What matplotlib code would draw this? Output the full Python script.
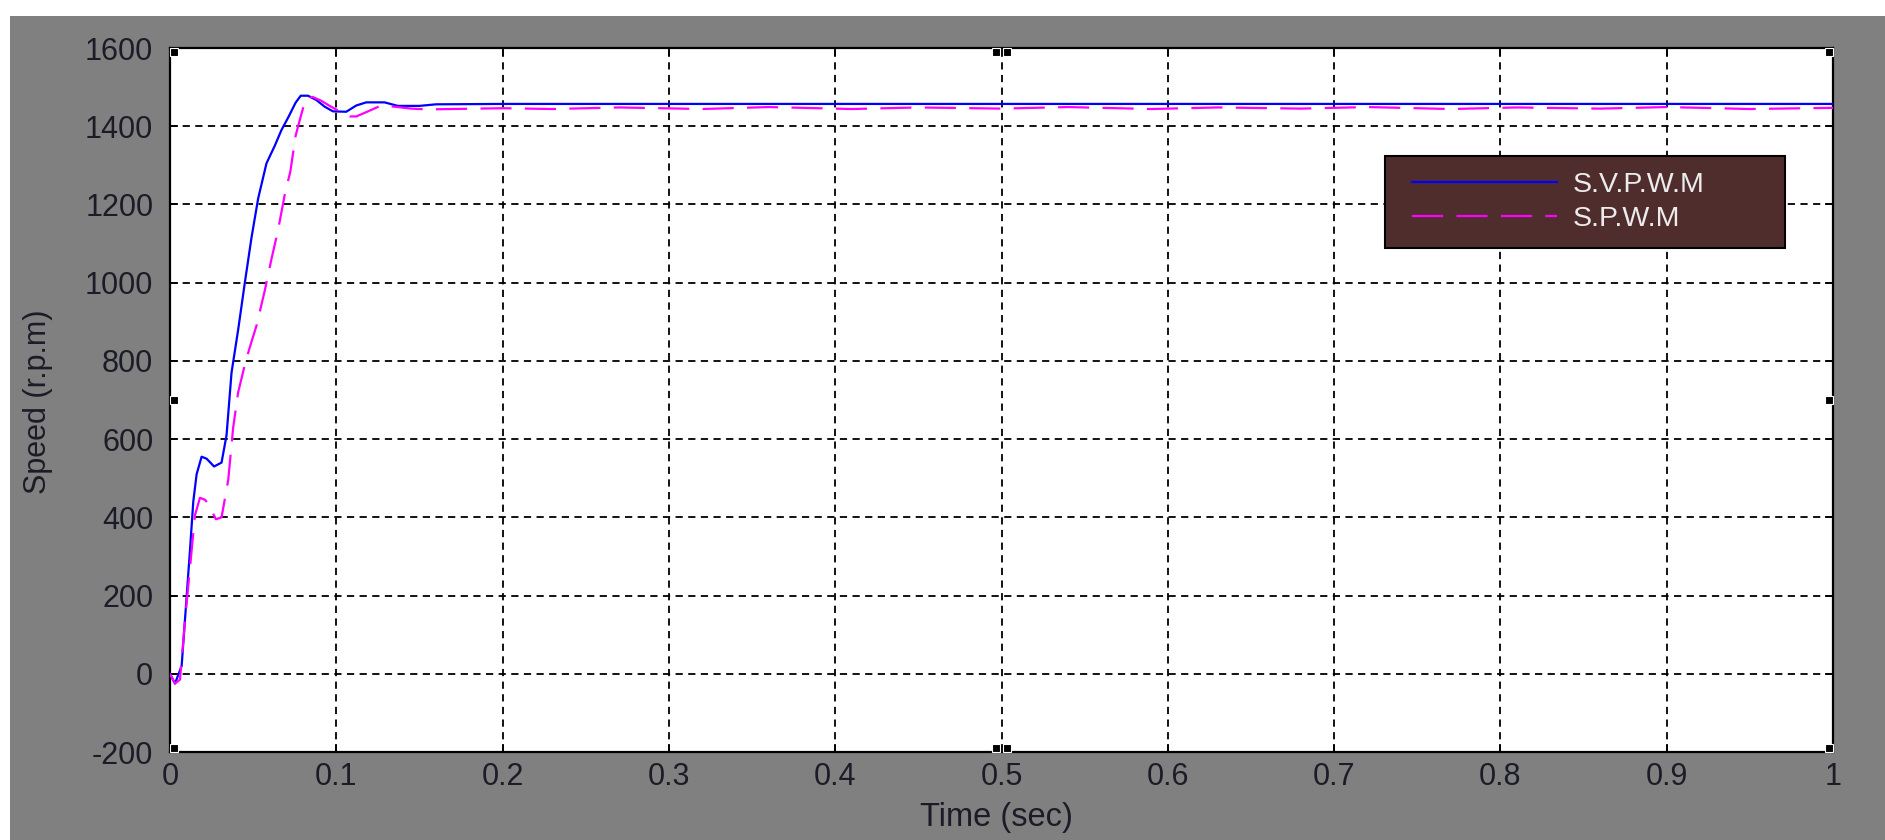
import matplotlib
matplotlib.use("Agg")
import matplotlib.pyplot as plt
from matplotlib.patches import Rectangle

# speed response (time in sec, speed in r.p.m)
svpwm_t = [0, 0.003, 0.007, 0.012, 0.014, 0.016, 0.019, 0.022, 0.0265, 0.031,
           0.034, 0.037, 0.041, 0.045, 0.049, 0.053, 0.058, 0.063, 0.067,
           0.0714, 0.0755, 0.0786, 0.083, 0.088, 0.093, 0.098, 0.106, 0.112,
           0.118, 0.129, 0.137, 0.15, 0.16, 0.2, 0.5, 1.0]
svpwm_speed = [0, -25, 20, 315, 440, 510, 555, 550, 530, 540,
               610, 770, 880, 1000, 1115, 1215, 1305, 1350, 1390,
               1425, 1460, 1478, 1478, 1467, 1450, 1438, 1437, 1453,
               1461, 1461, 1452, 1452, 1456, 1457, 1457, 1457]

spwm_t = [0, 0.003, 0.006, 0.009, 0.012, 0.015, 0.018, 0.021, 0.023, 0.0276,
          0.031, 0.035, 0.038, 0.041, 0.045, 0.048, 0.052, 0.057, 0.061,
          0.065, 0.069, 0.0724, 0.0755, 0.0786, 0.0816, 0.0857, 0.091, 0.096,
          0.102, 0.108, 0.112, 0.118, 0.127, 0.135, 0.145, 0.155, 0.2, 0.23,
          0.27, 0.32, 0.36, 0.41, 0.45, 0.5, 0.54, 0.59, 0.63, 0.68, 0.72,
          0.77, 0.81, 0.86, 0.9, 0.95, 1.0]
spwm_speed = [0, -25, -15, 135, 270, 405, 450, 445, 435, 395,
              400, 495, 630, 720, 790, 835, 890, 980, 1060,
              1135, 1225, 1285, 1375, 1425, 1470, 1475, 1465, 1452,
              1438, 1425, 1425, 1436, 1453, 1450, 1445, 1443, 1446, 1444,
              1448, 1444, 1449, 1444, 1448, 1445, 1449, 1444, 1448, 1445, 1449,
              1444, 1448, 1445, 1449, 1444, 1447]

x_ticks = [0, 0.1, 0.2, 0.3, 0.4, 0.5, 0.6, 0.7, 0.8, 0.9, 1]
x_tick_labels = ["0", "0.1", "0.2", "0.3", "0.4", "0.5", "0.6", "0.7", "0.8", "0.9", "1"]
y_ticks = [-200, 0, 200, 400, 600, 800, 1000, 1200, 1400, 1600]
series_labels = ["S.V.P.W.M", "S.P.W.M"]

plt.rcParams["font.family"] = ["Liberation Sans", "DejaVu Sans"]
plt.rcParams["axes.unicode_minus"] = False
text_col = "#1c1c28"

fig = plt.figure(figsize=(18.85, 8.4), dpi=100, facecolor="white")
# grey matlab figure background (white strip on top and left)
fig.patches.append(Rectangle((10 / 1885, 0), 1, 824 / 840, transform=fig.transFigure,
                             facecolor="#808080", edgecolor="none", zorder=-1))

ax = fig.add_axes([170 / 1885, 88 / 840, 1663 / 1885, 704 / 840])
ax.set_facecolor("white")

ax.plot(svpwm_t, svpwm_speed, color="#0000ff", lw=1.6, label=series_labels[0], zorder=3)
ax.plot(spwm_t, spwm_speed, color="#ff00ff", lw=1.6, dashes=(14, 6),
        label=series_labels[1], zorder=3)

ax.set_xlim(0, 1)
ax.set_ylim(-200, 1600)
ax.set_xticks(x_ticks)
ax.set_xticklabels(x_tick_labels)
ax.set_yticks(y_ticks)
ax.tick_params(direction="in", length=6, width=1.2, top=True, right=True,
               labelsize=22, labelcolor=text_col)
ax.tick_params(axis="x", pad=7)
ax.tick_params(axis="y", pad=12)
ax.grid(True, color="black", lw=1.3, linestyle=(0, (4, 3)))
for sp in ax.spines.values():
    sp.set_linewidth(1.6)

ax.set_xlabel("Time (sec)", fontsize=23.5, color=text_col, va="center")
ax.xaxis.set_label_coords(0.497, -0.093)
ax.set_ylabel("Speed (r.p.m)", fontsize=22, color=text_col, va="center")
ax.yaxis.set_label_coords(-0.0794, 0.497)

# legend box drawn separately so the entries can sit where matlab put them
ax.add_patch(Rectangle((0.7306, 0.7159), 0.2405, 0.1307, transform=ax.transAxes,
                       facecolor="#502d2d", edgecolor="black", lw=1.5, zorder=6))
leg = ax.legend(loc="center left", bbox_to_anchor=(0.7468, 0.7813),
                borderaxespad=0, borderpad=0, frameon=False, fontsize=20.5,
                handlelength=5.1, handletextpad=0.55, labelspacing=0.27)
leg.set_zorder(7)
for txt in leg.get_texts():
    txt.set_color("#ececec")

# selection handles of the matlab figure
for hx in [0.0024, 0.5, 0.9976]:
    for hy in [0.0057, 0.5, 0.9943]:
        if hx == 0.5 and hy == 0.5:
            continue
        if hx == 0.5:
            xs = [0.4965, 0.5035]
        else:
            xs = [hx]
        for x in xs:
            ax.plot(x, hy, marker="s", ms=6, mfc="black", mec="white", mew=0.8,
                    transform=ax.transAxes, clip_on=False, zorder=8)

fig.savefig("out.png", dpi=100, facecolor=fig.get_facecolor())
